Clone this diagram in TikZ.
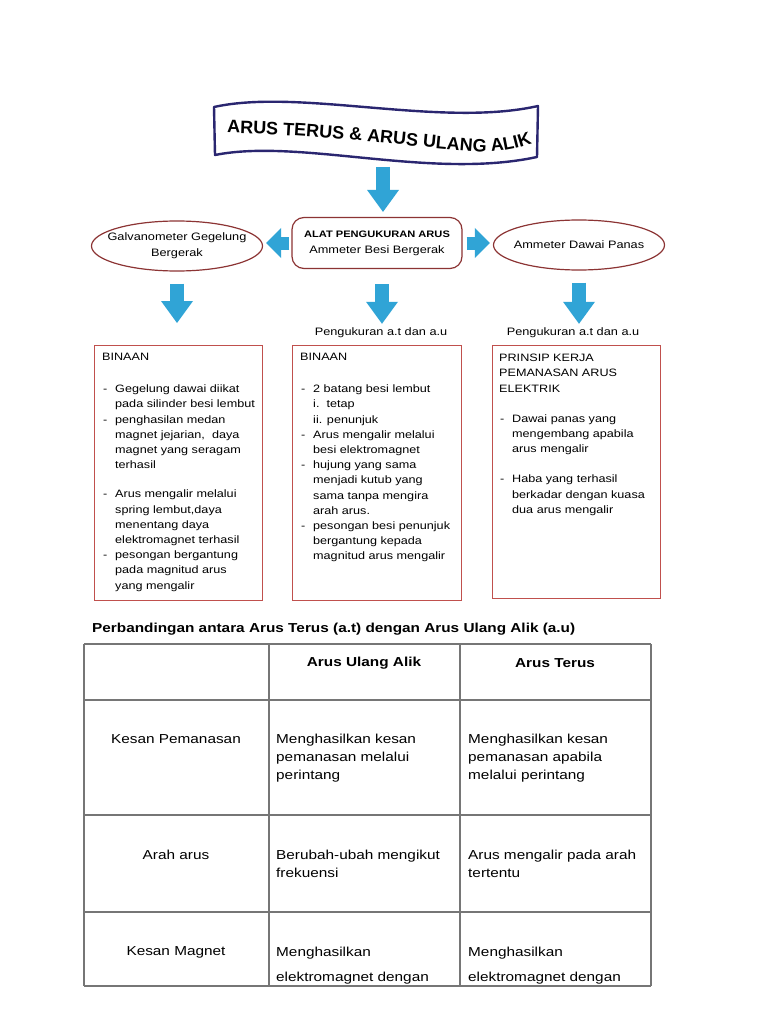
\documentclass[tikz,border=0pt]{standalone}
\usepackage{fontspec}
\setmainfont{Liberation Sans}
\newfontfamily\widefont{Liberation Sans}[FakeStretch=1.18]
\usetikzlibrary{arrows.meta,shapes.geometric,decorations.text,positioning}

\definecolor{arrowblue}{RGB}{48,164,214}
\definecolor{ovalred}{RGB}{140,52,52}
\definecolor{boxred}{RGB}{192,80,77}
\definecolor{bannerblue}{RGB}{42,38,112}
\definecolor{gridgray}{RGB}{118,118,118}

\newcommand{\itm}{\makebox[13pt][l]{\hspace{1pt}-}}
\newcommand{\cnt}{\hspace*{13pt}}

\tikzset{
  blockarrow/.style={draw=arrowblue, line width=14pt, -{Triangle[width=32pt,length=22pt,line width=0pt]}},
  sidearrow/.style={draw=arrowblue, line width=13pt, -{Triangle[width=30pt,length=15pt,line width=0pt]}},
  oval/.style={ellipse, draw=ovalred, line width=1.2pt, inner xsep=-10pt, inner ysep=0pt, minimum width=171pt, minimum height=50pt, align=center, font=\widefont\fontsize{10.8}{16}\selectfont},
  alatbox/.style={rectangle, rounded corners=12pt, draw=ovalred, line width=1.2pt, inner sep=0pt, minimum width=170pt, minimum height=51pt, align=center, font=\widefont\fontsize{10.8}{16}\selectfont},
  infobox/.style={rectangle, draw=boxred, line width=1.4pt, anchor=north west, minimum height=255pt},
  boxtext/.style={anchor=north west, inner sep=0pt, align=left, font=\widefont\fontsize{10.7}{15.2}\selectfont},
  smalltext/.style={inner sep=0pt, font=\widefont\fontsize{10.8}{13}\selectfont},
  gridline/.style={draw=gridgray, line width=1.1pt},
  cell/.style={anchor=north west, inner sep=0pt, align=left, font=\widefont\fontsize{13}{18}\selectfont},
  rowhead/.style={inner sep=0pt, font=\widefont\fontsize{13}{18}\selectfont},
  colhead/.style={inner sep=0pt, font=\widefont\fontsize{13}{18}\selectfont\bfseries}
}

\begin{document}
\begin{tikzpicture}[x=1pt, y=-1pt]
    \fill[white] (0,0) rectangle (768,1024);
    \useasboundingbox (0,0) rectangle (768,1024);

    % banner
    \draw[bannerblue, line width=2.4pt, line join=round]
        (214,107) .. controls (300,88) and (440,128) .. (538,106)
        -- (537,157) .. controls (430,180) and (300,138) .. (215,155) -- cycle;
    \path[decorate, decoration={text along path, text align={fit to path},
        text={|\fontsize{18}{20}\bfseries|ARUS TERUS {\&} ARUS ULANG ALIK}}]
        (227,133) .. controls (330,135) and (430,149) .. (482,152)
        .. controls (500,152) and (515,149) .. (530,144);
    \coordinate (bannerbot) at (383,167);

    % alat pengukuran
    \node[alatbox] (alat) at (377,243) {{\fontsize{9.4}{16}\selectfont\bfseries ALAT PENGUKURAN ARUS}\\Ammeter Besi Bergerak};
    \node[oval] (galva) at (177,246) {Galvanometer Gegelung\\Bergerak};
    \node[oval] (dawai) at (579,245) {Ammeter Dawai Panas};

    \draw[blockarrow, shorten >=5pt] (bannerbot) -- (bannerbot |- alat.north);
    \draw[sidearrow, shorten <=2pt, shorten >=3pt] (alat.west) -- (alat.west -| galva.east);
    \draw[sidearrow, shorten <=4pt, shorten >=3pt] (alat.east) -- (alat.east -| dawai.west);

    \node[smalltext] (ukurB) at (381,333) {Pengukuran a.t dan a.u};
    \node[smalltext] (ukurC) at (573,333) {Pengukuran a.t dan a.u};

    % kotak binaan
    \node[infobox, minimum width=168pt] (binaanA) at (94,345) {};
    \node[infobox, minimum width=169pt] (binaanB) at (292,345) {};
    \node[infobox, minimum width=168pt, minimum height=253pt] (prinsip) at (492,345) {};

    \draw[blockarrow, shorten <=12pt, shorten >=22pt] (galva.south) -- (galva.south |- binaanA.north);
    \draw[blockarrow, shorten <=15pt, shorten >=4pt] ([xshift=5pt]alat.south) -- ([xshift=5pt]alat.south |- ukurB.north);
    \draw[blockarrow, shorten <=12pt, shorten >=4pt] (dawai.south) -- (dawai.south |- ukurC.north);

    \node[boxtext] (txtA) at ([xshift=8pt,yshift=-8pt]binaanA.north west) {BINAAN\\[17pt]
        \itm Gegelung dawai diikat\\
        \cnt pada silinder besi lembut\\
        \itm penghasilan medan\\
        \cnt magnet jejarian,\ \ daya\\
        \cnt magnet yang seragam\\
        \cnt terhasil\\[14pt]
        \itm Arus mengalir melalui\\
        \cnt spring lembut,daya\\
        \cnt menentang daya\\
        \cnt elektromagnet terhasil\\
        \itm pesongan bergantung\\
        \cnt pada magnitud arus\\
        \cnt yang mengalir};
    \node[boxtext] (txtB) at ([xshift=8pt,yshift=-8pt]binaanB.north west) {BINAAN\\[17pt]
        \itm 2 batang besi lembut\\
        \cnt i.\ \ tetap\\
        \cnt ii. penunjuk\\
        \itm Arus mengalir melalui\\
        \cnt besi elektromagnet\\
        \itm hujung yang sama\\
        \cnt menjadi kutub yang\\
        \cnt sama tanpa mengira\\
        \cnt arah arus.\\
        \itm pesongan besi penunjuk\\
        \cnt bergantung kepada\\
        \cnt magnitud arus mengalir};
    \node[boxtext] (txtC) at ([xshift=7pt,yshift=-9pt]prinsip.north west) {PRINSIP KERJA\\
        PEMANASAN ARUS\\
        ELEKTRIK\\[15pt]
        \itm Dawai panas yang\\
        \cnt mengembang apabila\\
        \cnt arus mengalir\\[15pt]
        \itm Haba yang terhasil\\
        \cnt berkadar dengan kuasa\\
        \cnt dua arus mengalir};

    % jadual perbandingan
    \node[colhead, anchor=west] (judul) at (92,629) {Perbandingan antara Arus Terus (a.t) dengan Arus Ulang Alik (a.u)};
    \foreach \y in {644,700,815,912,986}
        \draw[gridline] (84,\y) -- (651,\y);
    \foreach \x in {84,269,460,651}
        \draw[gridline] (\x,644) -- (\x,986);

    \node[colhead] (hdrAU) at (364,663) {Arus Ulang Alik};
    \node[colhead] (hdrAT) at (555,663) {Arus Terus};

    \node[rowhead] (rowPanas) at (176,739) {Kesan Pemanasan};
    \node[rowhead] (rowArah) at (176,855) {Arah arus};
    \node[rowhead] (rowMagnet) at (176,952) {Kesan Magnet};

    \node[cell] (auPanas) at (276,734) {Menghasilkan kesan\\pemanasan melalui\\perintang};
    \node[cell] (atPanas) at (468,734) {Menghasilkan kesan\\pemanasan apabila\\melalui perintang};
    \node[cell] (auArah) at (276,850) {Berubah-ubah mengikut\\frekuensi};
    \node[cell] (atArah) at (468,850) {Arus mengalir pada arah\\tertentu};
    \node[cell] (auMagnet) at (276,947) {Menghasilkan\\[7pt]elektromagnet dengan};
    \node[cell] (atMagnet) at (468,947) {Menghasilkan\\[7pt]elektromagnet dengan};
\end{tikzpicture}
\end{document}
